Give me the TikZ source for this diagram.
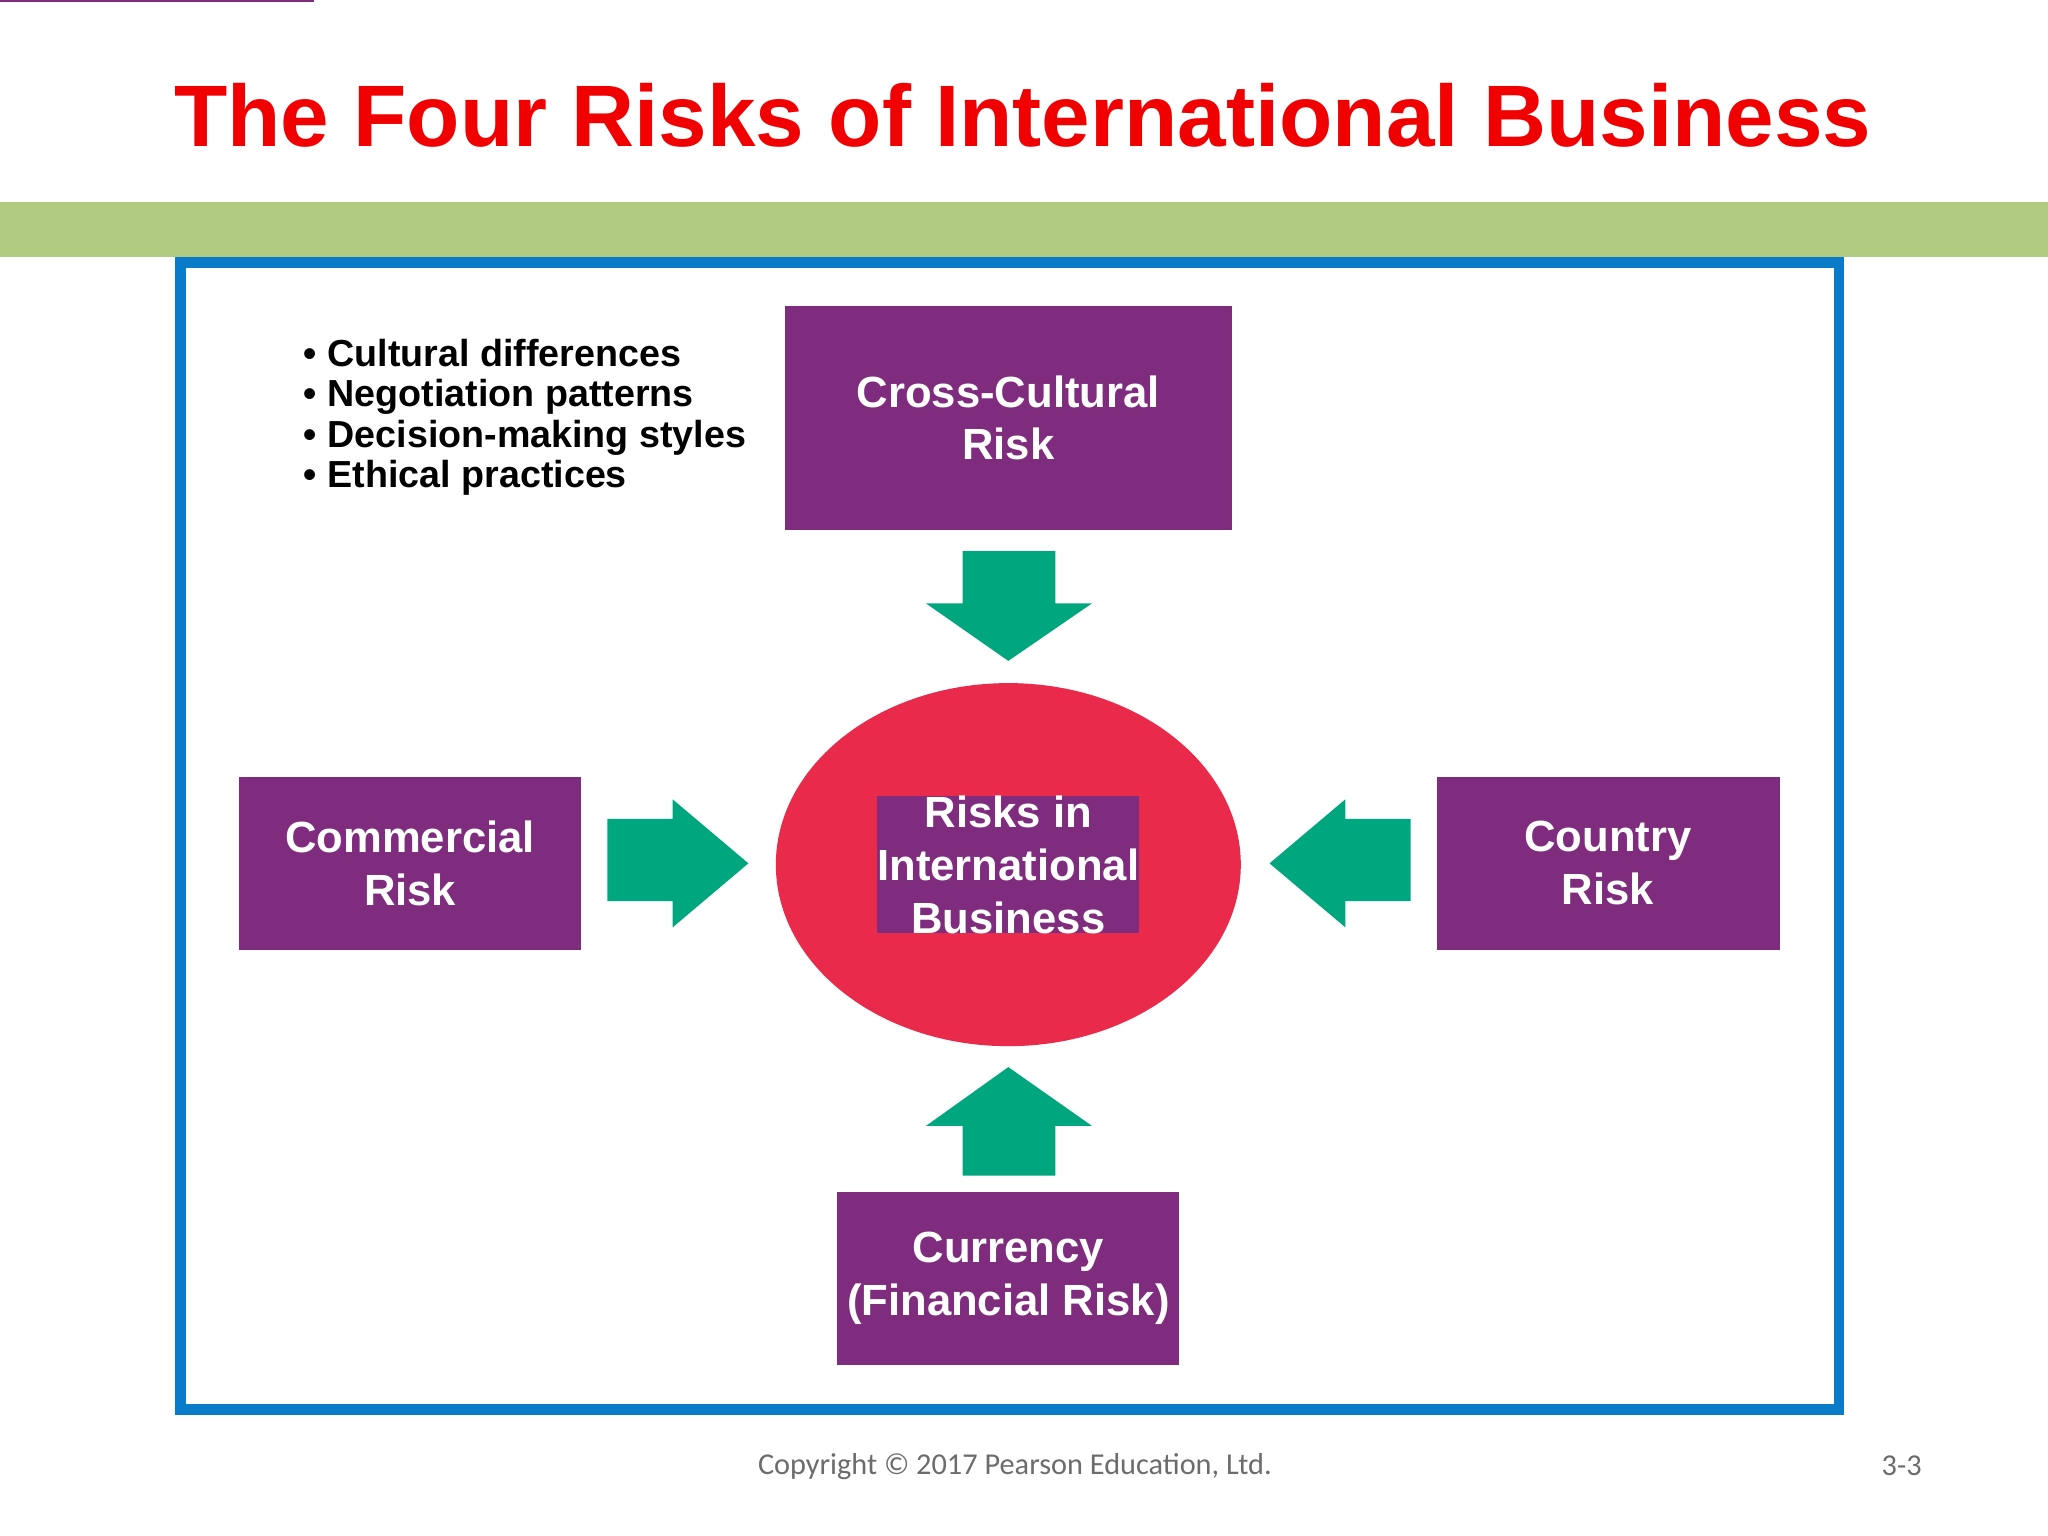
\documentclass[tikz,border=0pt]{standalone}
\usepackage{fontspec}
\setmainfont{Liberation Sans}
\newfontfamily\cfont{Carlito}
\definecolor{tred}{HTML}{F00000}
\definecolor{band}{HTML}{B0CB80}
\definecolor{frame}{HTML}{0A7BC8}
\definecolor{purp}{HTML}{7F2C7E}
\definecolor{ell}{HTML}{EA2A4A}
\definecolor{arr}{HTML}{00A67E}
\tikzset{
 box/.style={fill=purp,text=white,font=\bfseries\fontsize{9.5}{11.5}\selectfont,align=center,inner sep=0pt},
 garrow/.style={fill=arr,draw=none}
}
\begin{document}
\begin{tikzpicture}[x=0.01cm,y=-0.01cm]
\useasboundingbox (0,0) rectangle (1568,1176);
\fill[white] (0,0) rectangle (1568,1176);
\node[text=tred,font=\bfseries\fontsize{19}{22}\selectfont] (title) at (783,88) {The Four Risks of International Business};
\fill[band] (0,155) rectangle (1568,197);
\draw[frame,line width=2.3pt] (138,201) rectangle (1408,1079);
% boxes
\node[box,minimum width=342\pgflinewidth] at (0,0) {};
\fill[purp] (601,234) rectangle (943,406);
\node[box] (cc) at (772,320) {Cross-Cultural\\Risk};
\fill[purp] (183,595) rectangle (445,727);
\node[box] (com) at (314,661) {Commercial\\Risk};
\fill[purp] (1100,595) rectangle (1363,727);
\node[box] (cty) at (1231,661) {Country\\Risk};
\fill[purp] (641,913) rectangle (903,1045);
\node[box] (cur) at (772,979) {Currency\\(Financial Risk)};
\fill[ell] (772,662) ellipse [x radius=178, y radius=139];
\node[box] (ctr) at (772,662) {Risks in\\International\\Business};
% arrows
\fill[garrow] (737,422) -- (808,422) -- (808,462) -- (836,462) -- (772,506) -- (709,462) -- (737,462) -- cycle;
\fill[garrow] (737,900) -- (808,900) -- (808,862) -- (836,862) -- (772,817) -- (709,862) -- (737,862) -- cycle;
\fill[garrow] (465,627) -- (515,627) -- (515,612) -- (573,661) -- (515,710) -- (515,690) -- (465,690) -- cycle;
\fill[garrow] (1080,627) -- (1030,627) -- (1030,612) -- (972,661) -- (1030,710) -- (1030,690) -- (1080,690) -- cycle;
% bullets
\node[anchor=north west,align=left,inner sep=0pt,font=\bfseries\fontsize{8.2}{8.8}\selectfont] (list) at (232,259)
 {\textbullet\ Cultural differences\\\textbullet\ Negotiation patterns\\\textbullet\ Decision-making styles\\\textbullet\ Ethical practices};
\node[text=gray!85!black,font=\cfont\fontsize{6.6}{8}\selectfont] (copy) at (777,1123) {Copyright © 2017 Pearson Education, Ltd.};
\node[text=gray!85!black,font=\cfont\fontsize{6.6}{8}\selectfont] (num) at (1456,1122) {3-3};
\end{tikzpicture}
\end{document}
